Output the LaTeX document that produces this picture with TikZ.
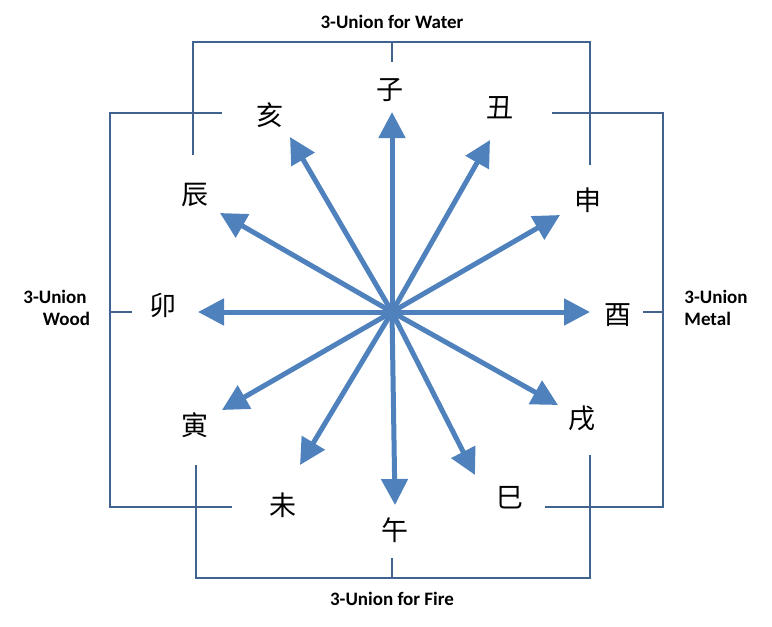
\documentclass[tikz,border=0pt]{standalone}
\usepackage{fontspec}
\setmainfont{Carlito}
\newfontfamily\cjk{Noto Sans CJK SC}
\usetikzlibrary{arrows.meta}
\definecolor{arr}{HTML}{4F81BD}
\definecolor{brk}{HTML}{41638F}
\begin{document}
\begin{tikzpicture}[x=1pt,y=-1pt,
  arrowline/.style={draw=arr,line width=5pt,-{Triangle[length=26pt,width=26pt]}},
  bracket/.style={draw=brk,line width=2.5pt},
  zh/.style={font=\cjk\fontsize{27}{27}\selectfont},
  captxt/.style={font=\bfseries\fontsize{19}{22}\selectfont,align=center}]
\useasboundingbox (0,0) rectangle (772,627);
\coordinate (c) at (392,312);
\foreach \n/\x/\y in {a/392/112,b/490/140,d/560/215,e/590/312,f/558/405,g/475/475,h/395/505,i/300/465,j/222/410,k/198/312,l/220/213,m/290/137}
  {\coordinate (\n) at (\x,\y); \draw[arrowline] (c) -- (\n);}
\node[zh] (t1) at (390,90) {子};
\node[zh] (t2) at (500,108) {丑};
\node[zh] (t3) at (588,200) {申};
\node[zh] (t4) at (618,315) {酉};
\node[zh] (t5) at (582,418) {戌};
\node[zh] (t6) at (510,498) {巳};
\node[zh] (t7) at (395,530) {午};
\node[zh] (t8) at (283,505) {未};
\node[zh] (t9) at (195,425) {寅};
\node[zh] (t10) at (163,305) {卯};
\node[zh] (t11) at (195,195) {辰};
\node[zh] (t12) at (270,115) {亥};
% Water
\draw[bracket] (193,155) -- (193,42) -- (590,42) -- (590,165);
\draw[bracket] (392,42) -- (392,62);
\node[captxt] (w) at (392,22) {3-Union for Water};
% Wood
\draw[bracket] (222,113) -- (110,113) -- (110,507) -- (232,507);
\draw[bracket] (110,312) -- (132,312);
\node[captxt] (wd) at (55,308) {3-Union\\\hspace*{1.2em}Wood};
% Metal
\draw[bracket] (552,113) -- (663,113) -- (663,507) -- (545,507);
\draw[bracket] (643,312) -- (663,312);
\node[captxt,align=left] (mt) at (716,308) {3-Union\\Metal};
% Fire
\draw[bracket] (196,465) -- (196,578) -- (590,578) -- (590,455);
\draw[bracket] (392,558) -- (392,578);
\node[captxt] (fr) at (392,599) {3-Union for Fire};
\end{tikzpicture}
\end{document}
